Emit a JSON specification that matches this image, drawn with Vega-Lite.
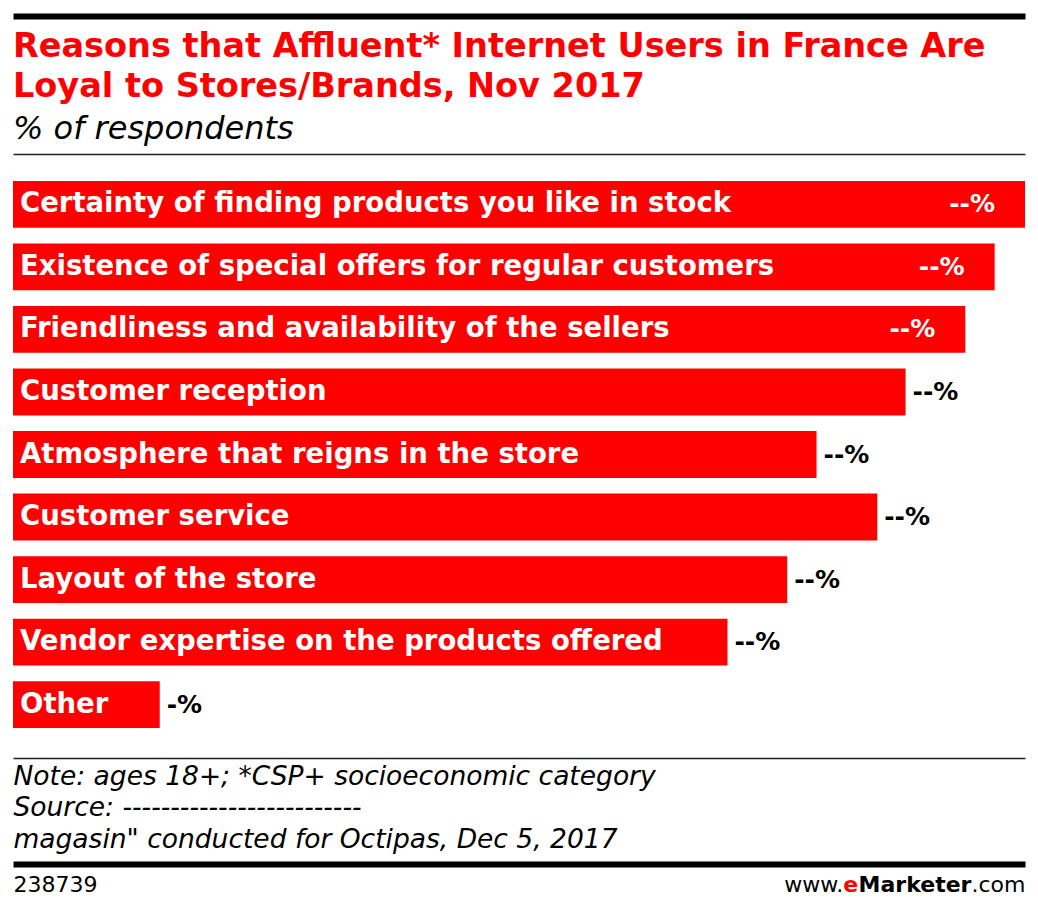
{
  "$schema": "https://vega.github.io/schema/vega-lite/v6.json",
  "autosize": {"type": "none"},
  "padding": {"left": 13, "top": 154, "right": 13, "bottom": 158},
  "width": 1012,
  "height": 601,
  "background": "white",
  "config": {
    "view": {"stroke": null},
    "axis": {"ticks": false, "grid": false, "tickSize": 0}
  },
  "title": {
    "text": ["Reasons that Affluent* Internet Users in France Are", "Loyal to Stores/Brands, Nov 2017"],
    "subtitle": "% of respondents",
    "anchor": "start",
    "frame": "group",
    "offset": -130,
    "font": "DejaVu Sans",
    "fontWeight": "bold",
    "fontSize": 33.5,
    "lineHeight": 40,
    "color": "#ff0000",
    "subtitleFont": "DejaVu Sans",
    "subtitleFontStyle": "italic",
    "subtitleFontSize": 32,
    "subtitleColor": "black",
    "subtitlePadding": 10
  },
  "data": {
    "values": [
      {"reason": "Certainty of finding products you like in stock", "value": 100, "label": "--%"},
      {"reason": "Existence of special offers for regular customers", "value": 97.0, "label": "--%"},
      {"reason": "Friendliness and availability of the sellers", "value": 94.1, "label": "--%"},
      {"reason": "Customer reception", "value": 88.2, "label": "--%"},
      {"reason": "Atmosphere that reigns in the store", "value": 79.4, "label": "--%"},
      {"reason": "Customer service", "value": 85.4, "label": "--%"},
      {"reason": "Layout of the store", "value": 76.5, "label": "--%"},
      {"reason": "Vendor expertise on the products offered", "value": 70.6, "label": "--%"},
      {"reason": "Other", "value": 14.5, "label": "-%"}
    ]
  },
  "encoding": {
    "y": {
      "field": "reason",
      "type": "nominal",
      "sort": null,
      "axis": null,
      "scale": {"paddingInner": 0.25, "paddingOuter": 0.43}
    }
  },
  "layer": [
    {
      "mark": {"type": "bar", "color": "#ff0000"},
      "encoding": {
        "x": {
          "field": "value",
          "type": "quantitative",
          "scale": {"domain": [0, 100], "nice": false, "zero": true},
          "axis": {"orient": "top", "offset": 0, "labels": false, "title": null, "domainColor": "#222222", "domainWidth": 1.5}
        }
      }
    },
    {
      "transform": [{"filter": "datum.value >= 90"}],
      "mark": {"type": "text", "align": "right", "baseline": "middle", "dx": -30, "font": "DejaVu Sans", "fontWeight": "bold", "fontSize": 25, "color": "white"},
      "encoding": {
        "x": {
          "field": "value",
          "type": "quantitative",
          "axis": {"orient": "top", "offset": 138, "labels": false, "title": null, "domainColor": "black", "domainWidth": 6}
        },
        "text": {"field": "label"}
      }
    },
    {
      "transform": [{"filter": "datum.value < 90"}],
      "mark": {"type": "text", "align": "left", "baseline": "middle", "dx": 7, "font": "DejaVu Sans", "fontWeight": "bold", "fontSize": 25, "color": "black"},
      "encoding": {
        "x": {
          "field": "value",
          "type": "quantitative",
          "axis": {
            "orient": "bottom",
            "offset": 3,
            "labels": false,
            "domainColor": "#222222",
            "domainWidth": 1.5,
            "title": ["Note: ages 18+; *CSP+ socioeconomic category", "Source: -------------------------", "magasin\" conducted for Octipas, Dec 5, 2017"],
            "titleAnchor": "start",
            "titleAlign": "left",
            "titleBaseline": "top",
            "titlePadding": 5,
            "titleFont": "DejaVu Sans",
            "titleFontStyle": "italic",
            "titleFontWeight": "normal",
            "titleFontSize": 26.5,
            "titleLineHeight": 31.5,
            "titleColor": "black"
          }
        },
        "text": {"field": "label"}
      }
    },
    {
      "mark": {"type": "text", "align": "left", "baseline": "middle", "dx": 7, "font": "DejaVu Sans", "fontWeight": "bold", "fontSize": 27.5, "color": "white"},
      "encoding": {
        "x": {
          "datum": 0,
          "type": "quantitative",
          "axis": {
            "orient": "bottom",
            "offset": 109,
            "title": null,
            "domainColor": "black",
            "domainWidth": 6,
            "values": [0, 81.99, 83.46, 94.66, 100],
            "labelExpr": "datum.value < 1 ? '238739' : datum.value < 83 ? 'www.' : datum.value < 90 ? 'e' : datum.value < 99 ? 'Marketer' : '.com'",
            "labelAlign": {"condition": {"test": "datum.value < 1", "value": "left"}, "value": "right"},
            "labelColor": {"condition": {"test": "datum.value > 83 && datum.value < 90", "value": "#ff0000"}, "value": "black"},
            "labelFontWeight": {"condition": {"test": "datum.value > 83 && datum.value < 99", "value": "bold"}, "value": "normal"},
            "labelFont": "DejaVu Sans",
            "labelFontSize": 22,
            "labelPadding": 10,
            "labelBaseline": "top",
            "labelOverlap": false,
            "labelBound": false,
            "labelFlush": false
          }
        },
        "text": {"field": "reason"}
      }
    }
  ],
  "resolve": {"axis": {"x": "independent"}}
}
